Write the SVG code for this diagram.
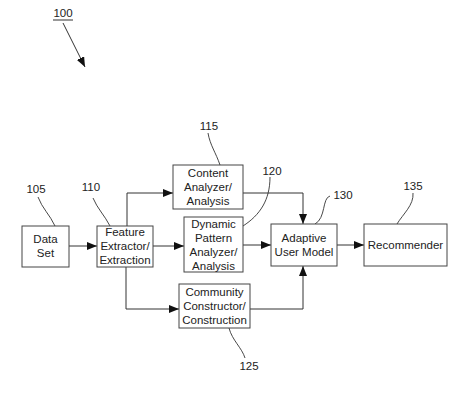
<svg xmlns="http://www.w3.org/2000/svg" width="474" height="406" viewBox="0 0 474 406">
<style>
.box{fill:#fff;stroke:#444;stroke-width:1}
.t{font-family:"Liberation Sans",Arial,sans-serif;font-size:11.5px;fill:#222;text-anchor:middle;dominant-baseline:central}
.ln{fill:none;stroke:#333;stroke-width:1}
.ld{fill:none;stroke:#333;stroke-width:0.9}
</style>
<defs>
<marker id="ah" viewBox="0 0 10 8" refX="10" refY="4" markerWidth="10" markerHeight="8" markerUnits="userSpaceOnUse" orient="auto">
<path d="M0,0 L10,4 L0,8 Z" fill="#111"/>
</marker>
</defs>
<g id="connectors">
<line class="ln" x1="69" y1="246" x2="97" y2="246" marker-end="url(#ah)"/>
<polyline class="ln" points="127,226 127,193 173,193" marker-end="url(#ah)"/>
<line class="ln" x1="153" y1="246" x2="184" y2="246" marker-end="url(#ah)"/>
<polyline class="ln" points="126,267 126,309 179,309" marker-end="url(#ah)"/>
<polyline class="ln" points="243,193 303,193 303,224" marker-end="url(#ah)"/>
<line class="ln" x1="243" y1="245" x2="271" y2="245" marker-end="url(#ah)"/>
<polyline class="ln" points="250,309 303,309 303,266" marker-end="url(#ah)"/>
<line class="ln" x1="337" y1="245" x2="364" y2="245" marker-end="url(#ah)"/>
<line class="ln" x1="63" y1="23" x2="85" y2="67" marker-end="url(#ah)"/>
<path class="ld" d="M38,197 C42,208 50,215 55,226"/>
<path class="ld" d="M93,198 C97,208 105,216 110,226"/>
<path class="ld" d="M208,133 C210,145 216,153 220,165"/>
<path class="ld" d="M270,177 C270,200 260,215 243,226"/>
<path class="ld" d="M330,196 C322,198 326,218 315,224"/>
<path class="ld" d="M413,193 C414,205 403,214 397,224"/>
<path class="ld" d="M229,328 C232,340 242,348 245,358"/>
</g>
<g id="label-100">
<text class="t" x="63" y="13">100</text>
<line x1="53" y1="20" x2="73" y2="20" stroke="#333" stroke-width="1"/>
</g>
<g id="label-105"><text class="t" x="36" y="189">105</text></g>
<g id="label-110"><text class="t" x="91" y="187">110</text></g>
<g id="label-115"><text class="t" x="209" y="126">115</text></g>
<g id="label-120"><text class="t" x="272" y="171">120</text></g>
<g id="label-130"><text class="t" x="343" y="195">130</text></g>
<g id="label-135"><text class="t" x="413" y="186">135</text></g>
<g id="label-125"><text class="t" x="249" y="366">125</text></g>
<g id="data-set">
<rect class="box" x="22" y="226" width="47" height="41"/>
<text class="t" x="45.5" y="239">Data</text>
<text class="t" x="45.5" y="253">Set</text>
</g>
<g id="feature-extractor">
<rect class="box" x="97" y="226" width="56" height="41"/>
<text class="t" x="125" y="232">Feature</text>
<text class="t" x="125" y="246">Extractor/</text>
<text class="t" x="125" y="260">Extraction</text>
</g>
<g id="content-analyzer">
<rect class="box" x="173" y="165" width="70" height="44"/>
<text class="t" x="208" y="173">Content</text>
<text class="t" x="208" y="187">Analyzer/</text>
<text class="t" x="208" y="201">Analysis</text>
</g>
<g id="dynamic-pattern">
<rect class="box" x="184" y="217" width="59" height="55"/>
<text class="t" x="213.5" y="224">Dynamic</text>
<text class="t" x="213.5" y="238">Pattern</text>
<text class="t" x="213.5" y="252">Analyzer/</text>
<text class="t" x="213.5" y="266">Analysis</text>
</g>
<g id="community-constructor">
<rect class="box" x="179" y="284" width="71" height="44"/>
<text class="t" x="214.5" y="292">Community</text>
<text class="t" x="214.5" y="306">Constructor/</text>
<text class="t" x="214.5" y="320">Construction</text>
</g>
<g id="adaptive-user-model">
<rect class="box" x="271" y="224" width="66" height="42"/>
<text class="t" x="304" y="238">Adaptive</text>
<text class="t" x="304" y="252">User Model</text>
</g>
<g id="recommender">
<rect class="box" x="364" y="224" width="83" height="42"/>
<text class="t" x="405.5" y="245">Recommender</text>
</g>
</svg>
